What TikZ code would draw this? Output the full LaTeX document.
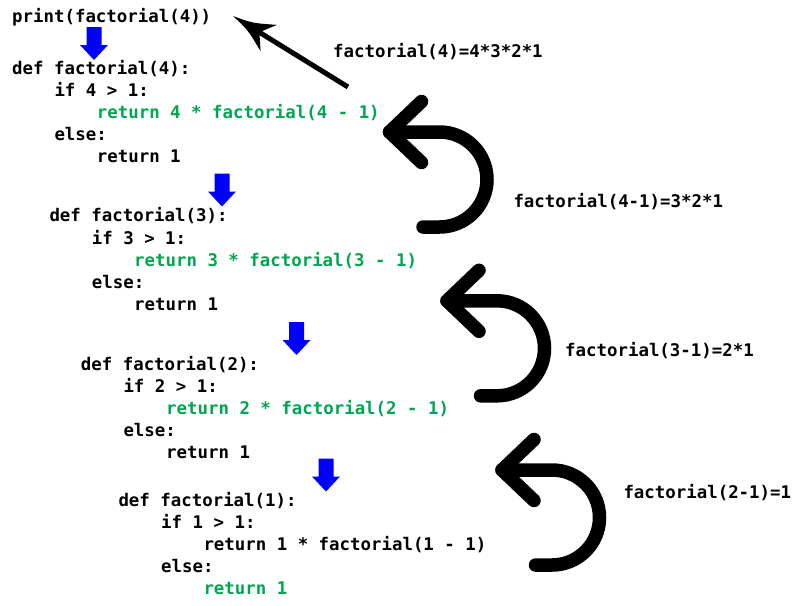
\documentclass[tikz,border=0pt]{standalone}
\usepackage{fontspec}
\setmonofont{DejaVu Sans Mono}
\usetikzlibrary{calc}
\definecolor{codegreen}{RGB}{0,166,81}
\definecolor{arrowblue}{RGB}{0,0,255}
\tikzset{
  code/.style={anchor=base west, inner sep=0pt, text=black,
    font=\ttfamily\bfseries\fontsize{17.4}{20}\selectfont},
  gcode/.style={code, text=codegreen},
  result/.style={code},
  uturnline/.style={line width=13.5pt, line cap=round, line join=round, black},
  blockdown/.pic={
    \fill[arrowblue] (-7.5,0) -- (7.5,0) -- (7.5,18) -- (14,18) -- (0,33)
      -- (-14,18) -- (-7.5,18) -- cycle;},
  uturn/.pic={
    \draw[uturnline] (-18,-78) -- (-50,-47.5) -- (-18,-17);
    \draw[uturnline] (-50,-47.5) -- (0,-47.5)
      arc[start angle=-90, end angle=90, radius=47.5] -- (-16.5,47.5);}
}
\begin{document}
\begin{tikzpicture}[x=1pt,y=-1pt]
\useasboundingbox (0,0) rectangle (799,605);
\fill[white] (0,0) rectangle (799,605);

% code lines
\node[code] (p0) at (12,22) {print(factorial(4))};

\node[code]  (d1) at (12,74)    {def factorial(4):};
\node[code]  (i1) at (54.3,96)  {if 4 > 1:};
\node[gcode] (r1) at (96.7,118.3) {return 4 * factorial(4 - 1)};
\node[code]  (e1) at (54.3,140) {else:};
\node[code]  (o1) at (96.7,162.3) {return 1};

\node[code]  (d2) at (49.3,221.7) {def factorial(3):};
\node[code]  (i2) at (91.7,244)   {if 3 > 1:};
\node[gcode] (r2) at (134,266.3)  {return 3 * factorial(3 - 1)};
\node[code]  (e2) at (91.7,288.3) {else:};
\node[code]  (o2) at (134,310.5)  {return 1};

\node[code]  (d3) at (80.7,370)   {def factorial(2):};
\node[code]  (i3) at (123.3,392)  {if 2 > 1:};
\node[gcode] (r3) at (166,414.3)  {return 2 * factorial(2 - 1)};
\node[code]  (e3) at (123.3,436.5) {else:};
\node[code]  (o3) at (166,458.5)  {return 1};

\node[code]  (d4) at (118.3,506)  {def factorial(1):};
\node[code]  (i4) at (161,528.3)  {if 1 > 1:};
\node[code]  (r4) at (203.3,550)  {return 1 * factorial(1 - 1)};
\node[code]  (e4) at (161,572)    {else:};
\node[gcode] (o4) at (203.3,594)  {return 1};

% result labels
\node[result] (l1) at (333,57.3)  {factorial(4)=4*3*2*1};
\node[result] (l2) at (513.3,207.7) {factorial(4-1)=3*2*1};
\node[result] (l3) at (565,356)   {factorial(3-1)=2*1};
\node[result] (l4) at (623.3,498.3) {factorial(2-1)=1};

% blue call arrows
\coordinate (b1) at (94,27);
\coordinate (b2) at (222,173.5);
\coordinate (b3) at (296.5,322);
\coordinate (b4) at (326,458.5);
\pic at (b1) {blockdown};
\pic at (b2) {blockdown};
\pic at (b3) {blockdown};
\pic at (b4) {blockdown};

% return u-turn arrows
\coordinate (u1) at (439.5,179.5);
\coordinate (u2) at (497,348.3);
\coordinate (u3) at (552,517.5);
\pic at (u1) {uturn};
\pic at (u2) {uturn};
\pic at (u3) {uturn};

% final return arrow to print
\coordinate (rt) at (348,87);
\coordinate (pt) at (233,16);
\draw[line width=5pt, shorten >=28pt] (rt) -- (pt);
\begin{scope}[shift={(pt)}, rotate=-31.7]
  \fill (0,0) .. controls (20,4) .. (42,15.5) -- (31,0) -- (42,-15.5)
    .. controls (20,-4) .. (0,0) -- cycle;
\end{scope}
\end{tikzpicture}
\end{document}
